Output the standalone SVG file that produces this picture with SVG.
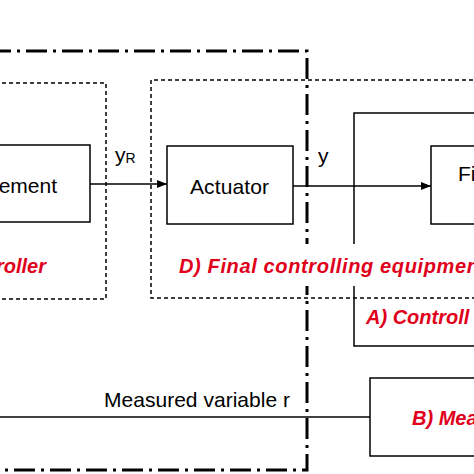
<svg xmlns="http://www.w3.org/2000/svg" width="474" height="474" viewBox="0 0 474 474">
<defs>
<style>
.t{font-family:"Liberation Sans",Arial,sans-serif;font-size:21px;fill:#000}
.r{font-family:"Liberation Sans",Arial,sans-serif;font-size:20px;font-weight:bold;font-style:italic;fill:#e0001b}
.box{fill:none;stroke:#000;stroke-width:1.5}
.dash{fill:none;stroke:#000;stroke-width:1.5;stroke-dasharray:4 3}
.dd{fill:none;stroke:#000;stroke-width:3;stroke-dasharray:21 6 3 6}
.ln{fill:none;stroke:#000;stroke-width:1.5}
</style>
<marker id="ah" viewBox="0 0 10 10" refX="10" refY="5" markerWidth="10" markerHeight="10" markerUnits="userSpaceOnUse" orient="auto">
<path d="M0,1 L10,5 L0,9 z" fill="#000"/>
</marker>
</defs>
<rect width="474" height="474" fill="#fff"/>
<g id="boundary-dashdot">
<path class="dd" d="M-10,51 H307 V470 H-10"/>
</g>
<g id="group-controller">
<path class="dash" d="M-5,83 H106 V299 H-5"/>
<text class="r" x="46" y="273" text-anchor="end">roller</text>
</g>
<g id="group-controlled-system">
<path class="box" d="M480,113 H354 V346 H480"/>
</g>
<g id="group-final-controlling">
<path class="dash" d="M480,80 H151 V298 H480"/>
<rect x="172" y="244" width="302" height="42" fill="#fff"/>
<text class="r" x="179" y="273" textLength="300">D) Final controlling equipmen</text>
</g>
<g id="label-A">
<text class="r" x="366" y="324">A) Controll</text>
</g>
<g id="node-element">
<rect class="box" x="-5" y="145" width="95" height="77"/>
<text class="t" x="57" y="193" text-anchor="end">ement</text>
</g>
<g id="node-actuator">
<rect class="box" x="167" y="146" width="126" height="78"/>
<text class="t" x="190" y="194" textLength="79">Actuator</text>
</g>
<g id="node-final">
<rect class="box" x="431" y="146" width="50" height="78"/>
<text class="t" x="458" y="181">Fi</text>
</g>
<g id="node-measuring">
<rect class="box" x="370" y="378" width="110" height="78"/>
<text class="r" x="412" y="425">B) Mea</text>
</g>
<g id="connectors">
<line class="ln" x1="90" y1="184" x2="167" y2="184" marker-end="url(#ah)"/>
<line class="ln" x1="293" y1="186" x2="431" y2="186" marker-end="url(#ah)"/>
<line class="ln" x1="-5" y1="417" x2="370" y2="417"/>
<text class="t" x="115" y="162">y<tspan font-size="14" dy="1">R</tspan></text>
<text class="t" x="318" y="163">y</text>
<text class="t" x="104" y="407" textLength="186">Measured variable r</text>
</g>
</svg>
